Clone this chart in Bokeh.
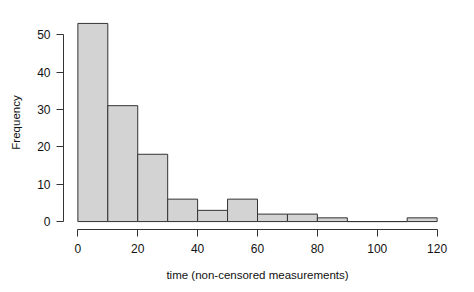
from bokeh.plotting import figure
from bokeh.models import LinearAxis, FixedTicker, Range1d, ColumnDataSource
from bokeh.embed import file_html
from bokeh.resources import INLINE

# Histogram data (bin edges and counts)
bin_left = [0, 10, 20, 30, 40, 50, 60, 70, 80, 90, 100, 110]
bin_right = [10, 20, 30, 40, 50, 60, 70, 80, 90, 100, 110, 120]
counts = [53, 31, 18, 6, 3, 6, 2, 2, 1, 0, 0, 1]
x_ticks = [0, 20, 40, 60, 80, 100, 120]
y_ticks = [0, 10, 20, 30, 40, 50]

xmin, xmax = 0, 120
ymin, ymax = 0, max(counts)
xpad = (xmax - xmin) * 0.04
ypad = (ymax - ymin) * 0.04

FONT = "Liberation Sans"
DARK = "#333333"

p = figure(width=474, height=292, output_backend="svg", toolbar_location=None,
           x_range=Range1d(xmin - xpad, xmax + xpad),
           y_range=Range1d(ymin - ypad, ymax + ypad),
           x_axis_location=None, y_axis_location=None,
           min_border_left=63, min_border_right=23, min_border_top=15, min_border_bottom=63)
p.outline_line_color = None
p.xgrid.visible = False
p.ygrid.visible = False
p.background_fill_color = "white"
p.border_fill_color = "white"

src = ColumnDataSource(dict(left=bin_left, right=bin_right, top=counts, bottom=[0] * len(counts)))
p.quad(left="left", right="right", top="top", bottom="bottom", source=src,
       fill_color="#D3D3D3", line_color=DARK, line_width=1)

xa = LinearAxis(ticker=FixedTicker(ticks=x_ticks), bounds=(xmin, xmax),
                axis_label="time (non-censored measurements)")
ya = LinearAxis(ticker=FixedTicker(ticks=y_ticks), bounds=(0, 50),
                axis_label="Frequency")
for ax in (xa, ya):
    ax.axis_line_color = DARK
    ax.major_tick_line_color = DARK
    ax.major_tick_out = 7
    ax.major_tick_in = 0
    ax.minor_tick_line_color = None
    ax.major_label_text_font = FONT
    ax.major_label_text_font_size = "12px"
    ax.major_label_text_color = "#111111"
    ax.axis_label_text_font = FONT
    ax.axis_label_text_font_size = "11.5px"
    ax.axis_label_text_font_style = "normal"
    ax.axis_label_text_color = "#111111"
xa.major_label_standoff = 7
xa.axis_label_standoff = 13
ya.major_label_standoff = 6
ya.axis_label_standoff = 12
p.add_layout(xa, "below")
p.add_layout(ya, "left")

open("out.html", "w").write(file_html(p, INLINE))
